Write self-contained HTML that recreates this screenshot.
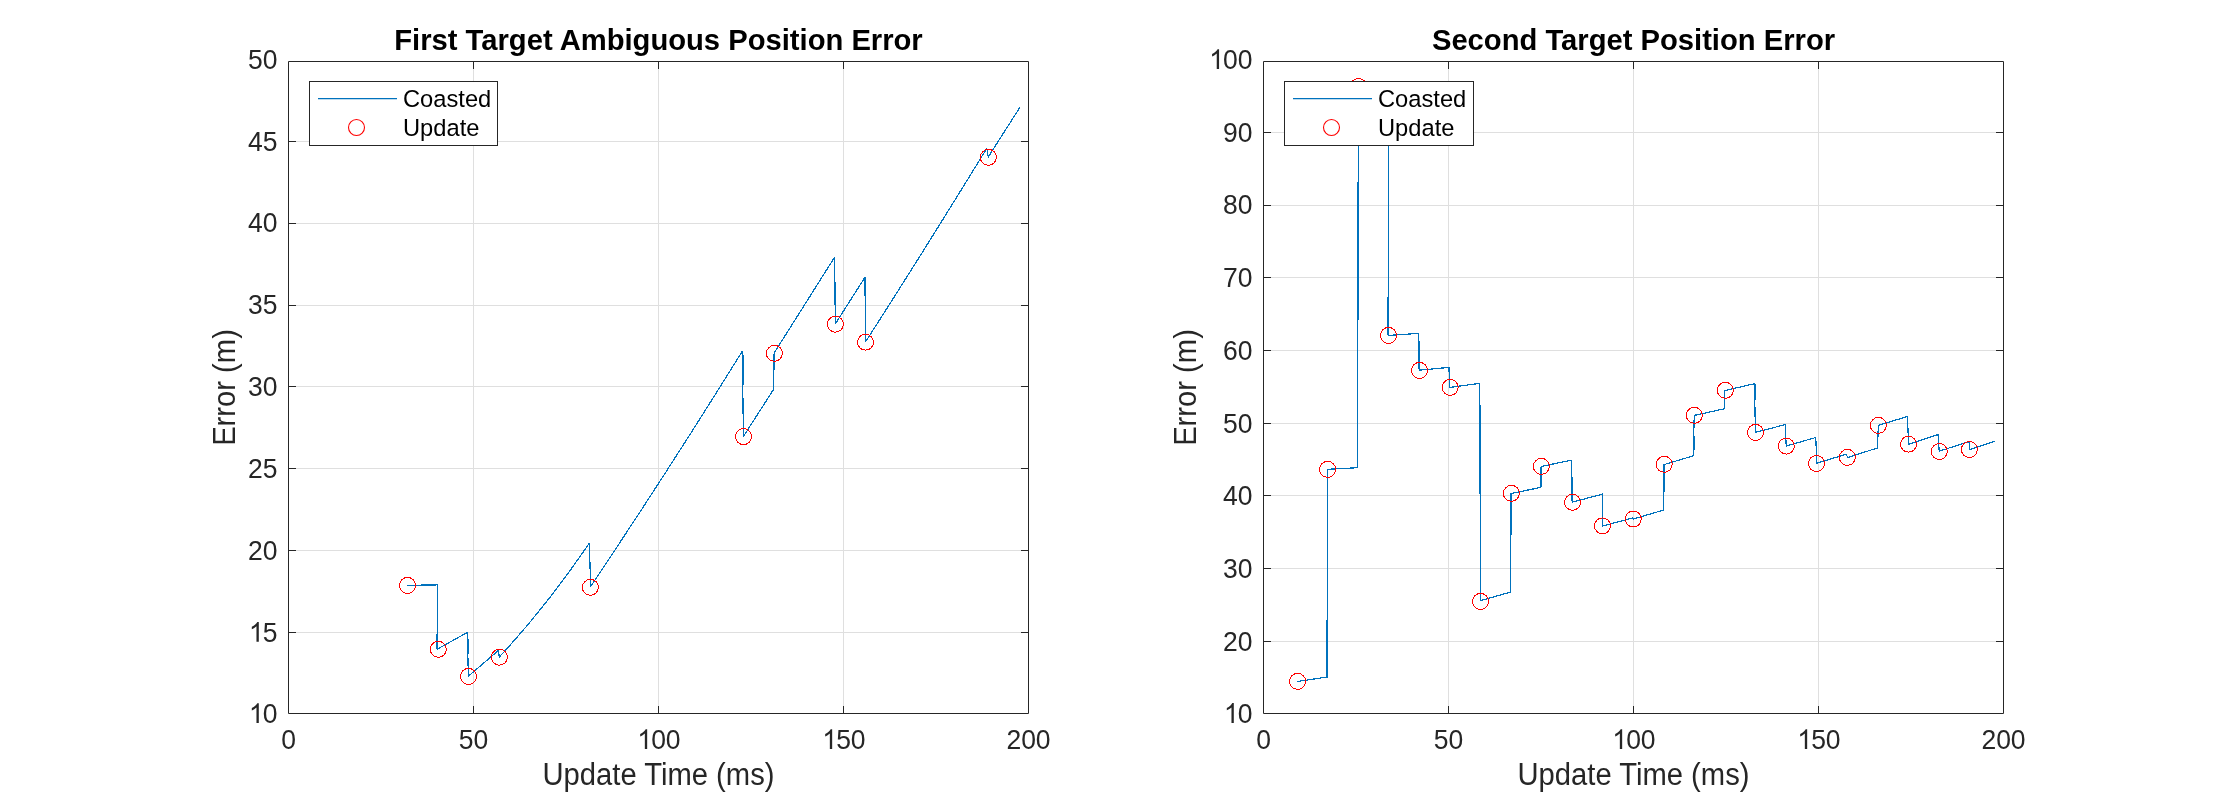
<!DOCTYPE html>
<html><head><meta charset="utf-8"><style>
html,body{margin:0;padding:0;background:#fff;width:2214px;height:802px;overflow:hidden}
svg{display:block;will-change:transform}
text{font-family:"Liberation Sans", sans-serif}
</style></head><body>
<svg width="2214" height="802" viewBox="0 0 2214 802">
<rect width="2214" height="802" fill="#fff"/>
<path d="M473.5 61.5V713.5 M658.5 61.5V713.5 M843.5 61.5V713.5 M288.5 632.5H1028.5 M288.5 550.5H1028.5 M288.5 468.5H1028.5 M288.5 386.5H1028.5 M288.5 305.5H1028.5 M288.5 223.5H1028.5 M288.5 141.5H1028.5" stroke="#dfdfdf" stroke-width="1" fill="none"/>
<path d="M407.5 585.3 L436.5 584.9 L437.2 584 L437.5 649 L467.2 632.5 L468.4 676.2 L498.3 650.6 L499.3 657 Q544.35 608.96 589.4 543.2 L590.6 586.6 Q666.45 473.5 742.3 351.2 L743.4 436.5 L773.3 389.8 L774.3 352.8 L834.4 257.5 L835.4 323.8 L864.9 277.4 L865.6 341.8 Q926.2 247.3 986.8 148.4 L988.3 156.9 L1019.8 107.5" stroke="#0072BD" stroke-width="1.2" fill="none" stroke-linejoin="miter" stroke-miterlimit="3" shape-rendering="crispEdges"/>
<path d="M437.2 634V649 M467.9 639V654 M742.9 355V385 M773.9 354V370 M834.9 282V305" stroke="#0072BD" stroke-width="2" fill="none" shape-rendering="crispEdges"/>
<circle cx="407.5" cy="585.4" r="8" stroke="#FF0000" stroke-width="1" fill="none" shape-rendering="crispEdges"/>
<circle cx="438.3" cy="649.3" r="8" stroke="#FF0000" stroke-width="1" fill="none" shape-rendering="crispEdges"/>
<circle cx="468.5" cy="676.4" r="8" stroke="#FF0000" stroke-width="1" fill="none" shape-rendering="crispEdges"/>
<circle cx="499.4" cy="657.2" r="8" stroke="#FF0000" stroke-width="1" fill="none" shape-rendering="crispEdges"/>
<circle cx="590.4" cy="587.3" r="8" stroke="#FF0000" stroke-width="1" fill="none" shape-rendering="crispEdges"/>
<circle cx="743.5" cy="436.6" r="8" stroke="#FF0000" stroke-width="1" fill="none" shape-rendering="crispEdges"/>
<circle cx="774.4" cy="353.3" r="8" stroke="#FF0000" stroke-width="1" fill="none" shape-rendering="crispEdges"/>
<circle cx="835.4" cy="324.2" r="8" stroke="#FF0000" stroke-width="1" fill="none" shape-rendering="crispEdges"/>
<circle cx="865.5" cy="342.2" r="8" stroke="#FF0000" stroke-width="1" fill="none" shape-rendering="crispEdges"/>
<circle cx="988.4" cy="157.3" r="8" stroke="#FF0000" stroke-width="1" fill="none" shape-rendering="crispEdges"/>
<path d="M288.5 61.5H1028.5V713.5H288.5Z M473.5 714.0v-8 M473.5 61.0v8 M658.5 714.0v-8 M658.5 61.0v8 M843.5 714.0v-8 M843.5 61.0v8 M288.0 632.5h8 M1029.0 632.5h-8 M288.0 550.5h8 M1029.0 550.5h-8 M288.0 468.5h8 M1029.0 468.5h-8 M288.0 386.5h8 M1029.0 386.5h-8 M288.0 305.5h8 M1029.0 305.5h-8 M288.0 223.5h8 M1029.0 223.5h-8 M288.0 141.5h8 M1029.0 141.5h-8" stroke="#262626" stroke-width="1" fill="none"/>
<text transform="translate(281.13 749) scale(1 1.07)" font-size="26.5" fill="#262626">0</text>
<text transform="translate(458.76 749) scale(1 1.07)" font-size="26.5" fill="#262626">5</text><text transform="translate(473.5 749) scale(1 1.07)" font-size="26.5" fill="#262626">0</text>
<path transform="translate(636.39 749) scale(0.012939 -0.013845)" d="M833 0L653 0L653 1119Q588 1058 483 998Q378 938 293 907L293 1077Q444 1146 557 1245Q670 1344 717 1430L833 1430Z" fill="#262626"/><text transform="translate(651.13 749) scale(1 1.07)" font-size="26.5" fill="#262626">0</text><text transform="translate(665.87 749) scale(1 1.07)" font-size="26.5" fill="#262626">0</text>
<path transform="translate(821.39 749) scale(0.012939 -0.013845)" d="M833 0L653 0L653 1119Q588 1058 483 998Q378 938 293 907L293 1077Q444 1146 557 1245Q670 1344 717 1430L833 1430Z" fill="#262626"/><text transform="translate(836.13 749) scale(1 1.07)" font-size="26.5" fill="#262626">5</text><text transform="translate(850.87 749) scale(1 1.07)" font-size="26.5" fill="#262626">0</text>
<text transform="translate(1006.39 749) scale(1 1.07)" font-size="26.5" fill="#262626">2</text><text transform="translate(1021.13 749) scale(1 1.07)" font-size="26.5" fill="#262626">0</text><text transform="translate(1035.87 749) scale(1 1.07)" font-size="26.5" fill="#262626">0</text>
<path transform="translate(248.02 723) scale(0.012939 -0.013845)" d="M833 0L653 0L653 1119Q588 1058 483 998Q378 938 293 907L293 1077Q444 1146 557 1245Q670 1344 717 1430L833 1430Z" fill="#262626"/><text transform="translate(262.76 723) scale(1 1.07)" font-size="26.5" fill="#262626">0</text>
<path transform="translate(248.02 641.7) scale(0.012939 -0.013845)" d="M833 0L653 0L653 1119Q588 1058 483 998Q378 938 293 907L293 1077Q444 1146 557 1245Q670 1344 717 1430L833 1430Z" fill="#262626"/><text transform="translate(262.76 641.7) scale(1 1.07)" font-size="26.5" fill="#262626">5</text>
<text transform="translate(248.02 559.8) scale(1 1.07)" font-size="26.5" fill="#262626">2</text><text transform="translate(262.76 559.8) scale(1 1.07)" font-size="26.5" fill="#262626">0</text>
<text transform="translate(248.02 477.8) scale(1 1.07)" font-size="26.5" fill="#262626">2</text><text transform="translate(262.76 477.8) scale(1 1.07)" font-size="26.5" fill="#262626">5</text>
<text transform="translate(248.02 396) scale(1 1.07)" font-size="26.5" fill="#262626">3</text><text transform="translate(262.76 396) scale(1 1.07)" font-size="26.5" fill="#262626">0</text>
<text transform="translate(248.02 314.2) scale(1 1.07)" font-size="26.5" fill="#262626">3</text><text transform="translate(262.76 314.2) scale(1 1.07)" font-size="26.5" fill="#262626">5</text>
<text transform="translate(248.02 232.4) scale(1 1.07)" font-size="26.5" fill="#262626">4</text><text transform="translate(262.76 232.4) scale(1 1.07)" font-size="26.5" fill="#262626">0</text>
<text transform="translate(248.02 150.7) scale(1 1.07)" font-size="26.5" fill="#262626">4</text><text transform="translate(262.76 150.7) scale(1 1.07)" font-size="26.5" fill="#262626">5</text>
<text transform="translate(248.02 68.9) scale(1 1.07)" font-size="26.5" fill="#262626">5</text><text transform="translate(262.76 68.9) scale(1 1.07)" font-size="26.5" fill="#262626">0</text>
<text transform="translate(658.5 784.6) scale(1 1.05)" font-size="29.2" fill="#262626" text-anchor="middle">Update Time (ms)</text>
<text transform="translate(234.5 387.5) rotate(-90) scale(1 1.07)" font-size="29.2" fill="#262626" text-anchor="middle">Error (m)</text>
<text transform="translate(658.5 50) scale(1 1.04)" font-size="29.2" fill="#000" text-anchor="middle" font-weight="bold">First Target Ambiguous Position Error</text>
<rect x="309.5" y="81.5" width="188" height="64" fill="#fff" stroke="#262626" stroke-width="1"/>
<path d="M318 98.5H397" stroke="#0072BD" stroke-width="1.25"/>
<circle cx="356.5" cy="127.5" r="8" stroke="#FF0000" stroke-width="1.1" fill="none"/>
<text transform="translate(403 107) scale(1 1.0)" font-size="23.7" fill="#000">Coasted</text>
<text transform="translate(403 135.5) scale(1 1.0)" font-size="23.7" fill="#000">Update</text>
<path d="M1448.5 61.5V713.5 M1633.5 61.5V713.5 M1818.5 61.5V713.5 M1263.5 641.5H2003.5 M1263.5 568.5H2003.5 M1263.5 495.5H2003.5 M1263.5 423.5H2003.5 M1263.5 350.5H2003.5 M1263.5 277.5H2003.5 M1263.5 205.5H2003.5 M1263.5 132.5H2003.5" stroke="#dfdfdf" stroke-width="1" fill="none"/>
<path d="M1297.4 681.5 L1327.1 677 L1327.5 469.3 L1357.3 467.7 L1358.4 86.5 L1388.4 85 L1388.5 335.4 L1418.6 333.4 L1419.4 370.2 L1448.9 367.4 L1449.8 387.4 L1479.5 383.4 L1480.7 600.6 L1510.4 592.1 L1511.2 493.4 L1540.9 487.4 L1541.4 466.4 L1571.6 460.2 L1572.4 502.1 L1602.2 494.2 L1602.7 526 L1632.5 518 L1633.3 519 L1663.8 510 L1664.1 464.6 L1693.3 455.8 L1694.2 415.4 L1724.4 408.8 L1724.9 390.5 L1754.5 383.7 L1755.4 432.4 L1785.2 424.6 L1786.2 446 L1815.8 437.5 L1816.7 463.2 L1845.9 454.4 L1848 457.4 L1877.6 447.9 L1878.3 425.4 L1907.4 416.5 L1908.6 444.2 L1938 434.6 L1939.2 451.2 L1969 441.6 L1969.6 449.5 L1994.7 441.4" stroke="#0072BD" stroke-width="1.2" fill="none" stroke-linejoin="miter" stroke-miterlimit="3" shape-rendering="crispEdges"/>
<path d="M1326.9 620V677 M1357.9 182V320 M1388.1 297V335 M1419 341V369 M1480.2 405V483 M1510.9 493V535 M1541 467V486 M1572 478V501 M1693.8 436V450 M1755 384V400" stroke="#0072BD" stroke-width="2" fill="none" shape-rendering="crispEdges"/>
<circle cx="1297.6" cy="681.4" r="8" stroke="#FF0000" stroke-width="1" fill="none" shape-rendering="crispEdges"/>
<circle cx="1327.6" cy="469.4" r="8" stroke="#FF0000" stroke-width="1" fill="none" shape-rendering="crispEdges"/>
<circle cx="1358.5" cy="86.5" r="8" stroke="#FF0000" stroke-width="1" fill="none" shape-rendering="crispEdges"/>
<circle cx="1388.5" cy="335.4" r="8" stroke="#FF0000" stroke-width="1" fill="none" shape-rendering="crispEdges"/>
<circle cx="1419.5" cy="370.4" r="8" stroke="#FF0000" stroke-width="1" fill="none" shape-rendering="crispEdges"/>
<circle cx="1450.2" cy="387.4" r="8" stroke="#FF0000" stroke-width="1" fill="none" shape-rendering="crispEdges"/>
<circle cx="1480.5" cy="601.4" r="8" stroke="#FF0000" stroke-width="1" fill="none" shape-rendering="crispEdges"/>
<circle cx="1511.4" cy="493.3" r="8" stroke="#FF0000" stroke-width="1" fill="none" shape-rendering="crispEdges"/>
<circle cx="1541.4" cy="466.4" r="8" stroke="#FF0000" stroke-width="1" fill="none" shape-rendering="crispEdges"/>
<circle cx="1572.5" cy="502.3" r="8" stroke="#FF0000" stroke-width="1" fill="none" shape-rendering="crispEdges"/>
<circle cx="1602.5" cy="525.9" r="8" stroke="#FF0000" stroke-width="1" fill="none" shape-rendering="crispEdges"/>
<circle cx="1633.3" cy="519" r="8" stroke="#FF0000" stroke-width="1" fill="none" shape-rendering="crispEdges"/>
<circle cx="1664.2" cy="464.3" r="8" stroke="#FF0000" stroke-width="1" fill="none" shape-rendering="crispEdges"/>
<circle cx="1694.3" cy="415.3" r="8" stroke="#FF0000" stroke-width="1" fill="none" shape-rendering="crispEdges"/>
<circle cx="1725.3" cy="390.3" r="8" stroke="#FF0000" stroke-width="1" fill="none" shape-rendering="crispEdges"/>
<circle cx="1755.5" cy="432.4" r="8" stroke="#FF0000" stroke-width="1" fill="none" shape-rendering="crispEdges"/>
<circle cx="1786.3" cy="446.1" r="8" stroke="#FF0000" stroke-width="1" fill="none" shape-rendering="crispEdges"/>
<circle cx="1816.5" cy="463.5" r="8" stroke="#FF0000" stroke-width="1" fill="none" shape-rendering="crispEdges"/>
<circle cx="1847.4" cy="457.4" r="8" stroke="#FF0000" stroke-width="1" fill="none" shape-rendering="crispEdges"/>
<circle cx="1878.4" cy="425.4" r="8" stroke="#FF0000" stroke-width="1" fill="none" shape-rendering="crispEdges"/>
<circle cx="1908.5" cy="444.2" r="8" stroke="#FF0000" stroke-width="1" fill="none" shape-rendering="crispEdges"/>
<circle cx="1939.3" cy="451.5" r="8" stroke="#FF0000" stroke-width="1" fill="none" shape-rendering="crispEdges"/>
<circle cx="1969.4" cy="449.5" r="8" stroke="#FF0000" stroke-width="1" fill="none" shape-rendering="crispEdges"/>
<path d="M1263.5 61.5H2003.5V713.5H1263.5Z M1448.5 714.0v-8 M1448.5 61.0v8 M1633.5 714.0v-8 M1633.5 61.0v8 M1818.5 714.0v-8 M1818.5 61.0v8 M1263.0 641.5h8 M2004.0 641.5h-8 M1263.0 568.5h8 M2004.0 568.5h-8 M1263.0 495.5h8 M2004.0 495.5h-8 M1263.0 423.5h8 M2004.0 423.5h-8 M1263.0 350.5h8 M2004.0 350.5h-8 M1263.0 277.5h8 M2004.0 277.5h-8 M1263.0 205.5h8 M2004.0 205.5h-8 M1263.0 132.5h8 M2004.0 132.5h-8" stroke="#262626" stroke-width="1" fill="none"/>
<text transform="translate(1256.13 749) scale(1 1.07)" font-size="26.5" fill="#262626">0</text>
<text transform="translate(1433.76 749) scale(1 1.07)" font-size="26.5" fill="#262626">5</text><text transform="translate(1448.5 749) scale(1 1.07)" font-size="26.5" fill="#262626">0</text>
<path transform="translate(1611.39 749) scale(0.012939 -0.013845)" d="M833 0L653 0L653 1119Q588 1058 483 998Q378 938 293 907L293 1077Q444 1146 557 1245Q670 1344 717 1430L833 1430Z" fill="#262626"/><text transform="translate(1626.13 749) scale(1 1.07)" font-size="26.5" fill="#262626">0</text><text transform="translate(1640.87 749) scale(1 1.07)" font-size="26.5" fill="#262626">0</text>
<path transform="translate(1796.39 749) scale(0.012939 -0.013845)" d="M833 0L653 0L653 1119Q588 1058 483 998Q378 938 293 907L293 1077Q444 1146 557 1245Q670 1344 717 1430L833 1430Z" fill="#262626"/><text transform="translate(1811.13 749) scale(1 1.07)" font-size="26.5" fill="#262626">5</text><text transform="translate(1825.87 749) scale(1 1.07)" font-size="26.5" fill="#262626">0</text>
<text transform="translate(1981.39 749) scale(1 1.07)" font-size="26.5" fill="#262626">2</text><text transform="translate(1996.13 749) scale(1 1.07)" font-size="26.5" fill="#262626">0</text><text transform="translate(2010.87 749) scale(1 1.07)" font-size="26.5" fill="#262626">0</text>
<path transform="translate(1223.02 722.9) scale(0.012939 -0.013845)" d="M833 0L653 0L653 1119Q588 1058 483 998Q378 938 293 907L293 1077Q444 1146 557 1245Q670 1344 717 1430L833 1430Z" fill="#262626"/><text transform="translate(1237.76 722.9) scale(1 1.07)" font-size="26.5" fill="#262626">0</text>
<text transform="translate(1223.02 650.7) scale(1 1.07)" font-size="26.5" fill="#262626">2</text><text transform="translate(1237.76 650.7) scale(1 1.07)" font-size="26.5" fill="#262626">0</text>
<text transform="translate(1223.02 578) scale(1 1.07)" font-size="26.5" fill="#262626">3</text><text transform="translate(1237.76 578) scale(1 1.07)" font-size="26.5" fill="#262626">0</text>
<text transform="translate(1223.02 505.2) scale(1 1.07)" font-size="26.5" fill="#262626">4</text><text transform="translate(1237.76 505.2) scale(1 1.07)" font-size="26.5" fill="#262626">0</text>
<text transform="translate(1223.02 432.5) scale(1 1.07)" font-size="26.5" fill="#262626">5</text><text transform="translate(1237.76 432.5) scale(1 1.07)" font-size="26.5" fill="#262626">0</text>
<text transform="translate(1223.02 359.8) scale(1 1.07)" font-size="26.5" fill="#262626">6</text><text transform="translate(1237.76 359.8) scale(1 1.07)" font-size="26.5" fill="#262626">0</text>
<text transform="translate(1223.02 287.1) scale(1 1.07)" font-size="26.5" fill="#262626">7</text><text transform="translate(1237.76 287.1) scale(1 1.07)" font-size="26.5" fill="#262626">0</text>
<text transform="translate(1223.02 214.4) scale(1 1.07)" font-size="26.5" fill="#262626">8</text><text transform="translate(1237.76 214.4) scale(1 1.07)" font-size="26.5" fill="#262626">0</text>
<text transform="translate(1223.02 141.7) scale(1 1.07)" font-size="26.5" fill="#262626">9</text><text transform="translate(1237.76 141.7) scale(1 1.07)" font-size="26.5" fill="#262626">0</text>
<path transform="translate(1208.29 69) scale(0.012939 -0.013845)" d="M833 0L653 0L653 1119Q588 1058 483 998Q378 938 293 907L293 1077Q444 1146 557 1245Q670 1344 717 1430L833 1430Z" fill="#262626"/><text transform="translate(1223.02 69) scale(1 1.07)" font-size="26.5" fill="#262626">0</text><text transform="translate(1237.76 69) scale(1 1.07)" font-size="26.5" fill="#262626">0</text>
<text transform="translate(1633.5 784.6) scale(1 1.05)" font-size="29.2" fill="#262626" text-anchor="middle">Update Time (ms)</text>
<text transform="translate(1195.5 387.5) rotate(-90) scale(1 1.07)" font-size="29.2" fill="#262626" text-anchor="middle">Error (m)</text>
<text transform="translate(1633.5 50) scale(1 1.04)" font-size="29.2" fill="#000" text-anchor="middle" font-weight="bold">Second Target Position Error</text>
<rect x="1284.5" y="81.5" width="189" height="64" fill="#fff" stroke="#262626" stroke-width="1"/>
<path d="M1293 98.5H1372" stroke="#0072BD" stroke-width="1.25"/>
<circle cx="1331.5" cy="127.5" r="8" stroke="#FF0000" stroke-width="1.1" fill="none"/>
<text transform="translate(1378 107) scale(1 1.0)" font-size="23.7" fill="#000">Coasted</text>
<text transform="translate(1378 135.5) scale(1 1.0)" font-size="23.7" fill="#000">Update</text>
</svg>
</body></html>
